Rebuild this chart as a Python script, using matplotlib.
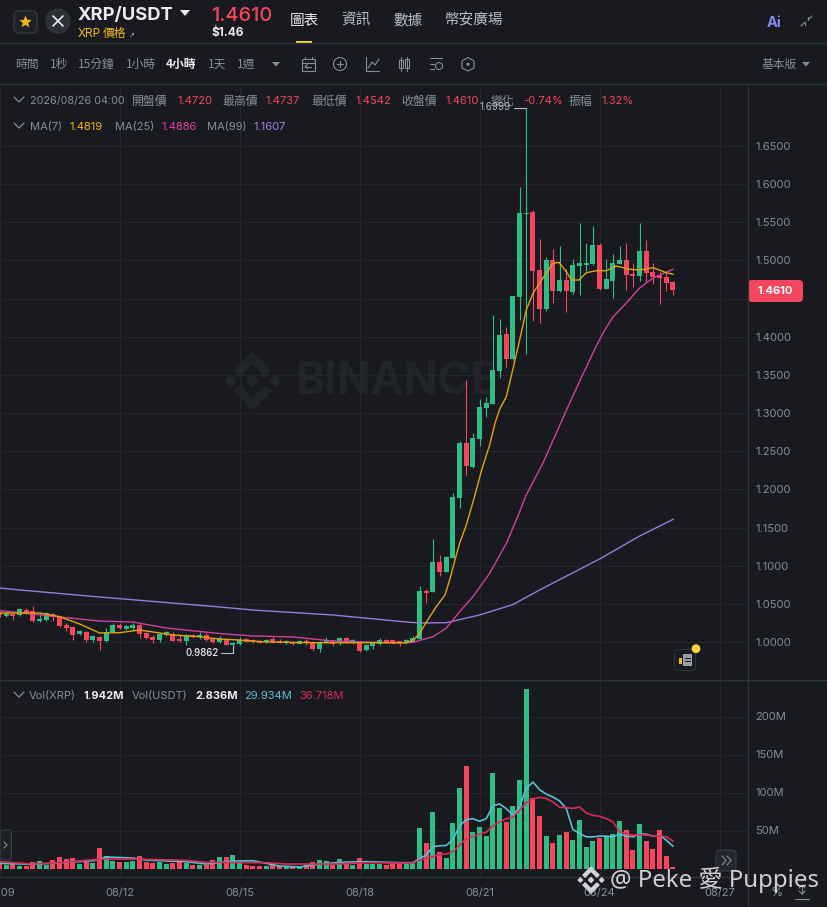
import matplotlib
matplotlib.use("Agg")
import matplotlib.pyplot as plt
from matplotlib.patches import FancyBboxPatch, Polygon, Circle, Rectangle
import numpy as np

plt.rcParams['font.family'] = ['Inter', 'Noto Sans CJK TC', 'DejaVu Sans']
CJK = ['Noto Sans CJK TC', 'DejaVu Sans']

BG = '#181A20'; GRID = '#23262D'; LINE = '#2F333B'; GRAY = '#848E9C'; UP = '#2EBD85'; DOWN = '#F6465D'
C_MA7 = '#E0A50C'; C_MA25 = '#D23FA0'; C_MA99 = '#9A7BDC'; C_V1 = '#59BFD6'; C_V2 = '#D92B58'

opens = [1.0394,1.0341,1.0367,1.0350,1.0420,1.0407,1.0280,1.0289,1.0367,1.0332,1.0223,1.0197,1.0101,1.0136,1.0022,1.0070,1.0018,1.0136,1.0223,1.0175,
 1.0188,1.0219,1.0118,1.0066,1.0027,1.0092,1.0110,1.0035,1.0009,1.0092,1.0070,1.0092,1.0040,0.9995,1.0039,0.9964,0.9973,1.0039,1.0021,1.0013,
 1.0004,1.0035,1.0017,0.9986,1.0004,0.9978,1.0008,0.9995,0.9908,0.9995,1.0021,0.9991,1.0056,0.9991,1.0004,0.9890,0.9943,0.9969,1.0026,1.0021,
 1.0008,0.9986,1.0004,1.0034,1.0672,1.0659,1.1048,1.0917,1.1100,1.1887,1.2608,1.2298,1.2661,1.3067,1.3119,1.3556,1.4032,1.3708,1.4526,1.5605,
 1.5636,1.4875,1.4368,1.5006,1.4596,1.4744,1.4591,1.4928,1.4945,1.4954,1.5199,1.4626,1.4736,1.4954,1.5006,1.4823,1.4801,1.5124,1.4849,1.4801,
 1.4779,1.4720]
closes = [1.0350,1.0376,1.0341,1.0429,1.0385,1.0276,1.0306,1.0376,1.0332,1.0210,1.0188,1.0096,1.0140,1.0027,1.0075,1.0018,1.0136,1.0223,1.0179,1.0206,
 1.0227,1.0110,1.0053,1.0027,1.0101,1.0127,1.0018,1.0009,1.0092,1.0066,1.0092,1.0027,1.0000,1.0048,0.9964,0.9986,1.0026,1.0004,0.9995,0.9991,
 1.0030,0.9995,0.9986,1.0008,0.9978,1.0008,0.9991,0.9908,1.0004,1.0026,0.9969,1.0056,0.9995,1.0030,0.9886,0.9960,0.9982,1.0021,0.9995,0.9986,
 0.9982,1.0021,1.0047,1.0668,1.0646,1.1052,1.0917,1.1114,1.1900,1.2608,1.2307,1.2674,1.3080,1.3132,1.3564,1.4023,1.3708,1.4534,1.5627,1.5627,
 1.4862,1.4364,1.5006,1.4596,1.4744,1.4596,1.4941,1.4963,1.4971,1.5203,1.4622,1.4753,1.4967,1.5006,1.4810,1.4801,1.5124,1.4840,1.4788,1.4771,
 1.4700,1.4610]
highs = [1.0411,1.0411,1.0385,1.0437,1.0442,1.0472,1.0385,1.0394,1.0376,1.0341,1.0245,1.0210,1.0158,1.0140,1.0088,1.0084,1.0179,1.0254,1.0245,1.0223,
 1.0254,1.0245,1.0136,1.0088,1.0127,1.0149,1.0127,1.0105,1.0101,1.0110,1.0131,1.0114,1.0057,1.0078,1.0048,0.9995,1.0061,1.0052,1.0035,1.0021,
 1.0039,1.0069,1.0035,1.0026,1.0017,1.0021,1.0035,1.0008,1.0017,1.0061,1.0030,1.0069,1.0065,1.0043,1.0017,0.9973,0.9995,1.0048,1.0035,1.0030,
 1.0013,1.0039,1.0078,1.0733,1.0694,1.1350,1.1144,1.1122,1.1953,1.2634,1.3434,1.2739,1.3185,1.3207,1.4285,1.4233,1.4124,1.4534,1.5968,1.6999,
 1.5662,1.5282,1.5050,1.5151,1.5190,1.4888,1.5020,1.5496,1.5234,1.5452,1.5225,1.5020,1.5085,1.5195,1.5225,1.4963,1.5487,1.5269,1.4963,1.4854,
 1.4840,1.4737]
lows = [1.0332,1.0324,1.0289,1.0341,1.0367,1.0267,1.0267,1.0280,1.0280,1.0201,1.0149,1.0027,1.0088,1.0005,1.0000,0.9895,1.0005,1.0127,1.0166,1.0158,
 1.0158,1.0048,1.0044,0.9992,1.0000,1.0084,1.0009,0.9996,0.9961,1.0057,1.0044,1.0018,0.9992,0.9982,0.9956,0.9862,0.9964,0.9995,0.9986,0.9982,
 0.9991,0.9986,0.9982,0.9978,0.9956,0.9973,0.9964,0.9886,0.9868,0.9986,0.9951,0.9956,0.9986,0.9978,0.9873,0.9881,0.9908,0.9956,0.9982,0.9973,
 0.9943,0.9978,0.9995,1.0025,1.0506,1.0655,1.0864,1.0912,1.1096,1.1756,1.2189,1.2285,1.2573,1.2953,1.3119,1.3455,1.3608,1.3700,1.4220,1.3770,
 1.4211,1.4185,1.4333,1.4447,1.4591,1.4325,1.4561,1.4552,1.4867,1.4941,1.4609,1.4626,1.4513,1.4954,1.4613,1.4657,1.4731,1.4722,1.4687,1.4425,
 1.4600,1.4542]
volumes = [9.6,5.2,6.1,4.4,4.4,9.6,10.0,5.2,11.3,15.2,13.1,13.9,6.5,9.1,8.3,27.0,16.5,10.4,9.1,9.1,
 10.4,16.5,9.6,8.3,9.6,6.5,8.3,9.1,8.3,4.8,5.2,5.7,11.3,15.7,15.2,18.7,8.3,4.8,4.4,4.4,
 3.9,4.8,3.9,2.6,3.0,2.6,5.7,8.7,11.3,10.0,4.8,12.6,8.3,5.2,13.9,6.1,6.5,6.5,5.7,8.3,
 9.6,6.5,7.8,54.4,33.9,75.3,22.2,14.4,60.0,105.7,135.7,49.2,55.7,43.1,126.6,79.6,61.3,82.2,117.0,236.2,
 93.5,69.2,43.1,34.4,45.2,48.3,37.8,63.9,29.1,37.4,41.3,43.1,46.5,63.1,50.9,24.8,58.7,36.5,26.5,51.8,
 17.0,2.9]

ma7_idx = [0,6,9,12,15,18,21,26,30,33,36,40,47,61,62,63,64.2,65.5,66.8,67.5,68.3,69,70,71.3,72.3,73.5,74.3,75,76,77.2,78,79,80,81.5,83,83.9,85,85.8,86.9,88,89.5,91,92.5,94.5,96,98,100,101]
ma7_val = [1.0380,1.0380,1.0332,1.0236,1.0118,1.0122,1.0157,1.0092,1.0069,1.0039,1.0026,1.0000,0.9991,0.9991,1.0017,1.0114,1.0288,1.0463,1.0616,1.0813,1.1075,1.1293,1.1533,1.1927,1.2254,1.2582,1.2866,1.3050,1.3215,1.3653,1.3958,1.4351,1.4570,1.4771,1.4963,1.4976,1.4853,1.4744,1.4744,1.4840,1.4866,1.4866,1.4928,1.4885,1.4875,1.4906,1.4840,1.4819]
ma25_idx = [0,9,15,20,25,33,38,44,50,60,62,65,67,69,71,73.5,76,77.5,79,81.5,83.5,85.5,87.3,89,90.5,92,94,96,98,101]
ma25_val = [1.0413,1.0328,1.0275,1.0262,1.0183,1.0111,1.0079,1.0066,1.0013,0.9987,0.9996,1.0069,1.0183,1.0397,1.0594,1.0900,1.1293,1.1599,1.1927,1.2346,1.2739,1.3132,1.3473,1.3788,1.4050,1.4260,1.4443,1.4640,1.4771,1.4886]
ma99_idx = [0,3,15,33,38,50,61,63,67,72,77,81,90,96,101]
ma99_val = [1.0708,1.0682,1.0590,1.0459,1.0419,1.0354,1.0262,1.0249,1.0253,1.0354,1.0491,1.0682,1.1088,1.1389,1.1607]
vol1_idx = [0,5,10,14,16,20,22,28,31,35,38,42,45,48,52,55,60]+list(range(62,102))
vol1_val = [7.4,6.1,8.7,10.9,15.7,14.4,11.7,9.6,6.5,10.4,10.9,3.9,2.6,6.5,9.1,9.6,8.3,
 8.3,13.9,18.3,29.1,30.5,30.9,38.7,56.6,64.8,66.1,62.6,66.1,83.1,85.3,79.2,70.5,81.3,106.1,114.0,104.0,98.3,94.4,89.2,79.2,51.8,46.5,42.2,42.2,43.1,43.1,42.2,45.7,43.1,42.2,46.1,45.7,43.1,44.4,37.8,29.9]
vol2_idx = [0,5,10,15,21,28,31,40,43,50,55]+list(range(62,102))
vol2_val = [9.6,6.5,8.7,13.0,13.0,11.3,8.7,8.3,6.5,6.5,8.3,
 7.8,11.7,13.9,16.1,19.1,19.6,22.6,31.3,39.6,42.2,45.7,48.3,57.0,61.8,66.1,68.3,77.0,87.0,92.2,94.0,92.7,87.9,80.9,80.5,79.6,81.3,73.5,70.5,69.2,66.1,61.8,48.7,46.5,44.4,45.2,44.4,43.5,43.5,42.2,36.7]
price_ticks = [1.00,1.05,1.10,1.15,1.20,1.25,1.30,1.35,1.40,1.45,1.50,1.55,1.60,1.65]
vol_ticks = [50,100,150,200]
date_ticks = [0,18,36,54,72,90,108]
date_labels = ['08/09','08/12','08/15','08/18','08/21','08/24','08/27']

W, H = 827, 907
fig = plt.figure(figsize=(W/100, H/100), dpi=100, facecolor=BG)

def axes_px(x0, y0, x1, y1, **kw):
    return fig.add_axes([x0/W, 1-y1/H, (x1-x0)/W, (y1-y0)/H], **kw)

BAR = 20/3
xlim = (0.37/BAR, (747+0.37)/BAR)
ax = axes_px(0, 84, 747, 679, facecolor='none')
axv = axes_px(0, 680, 747, 877, facecolor='none')
ov = axes_px(0, 0, W, H, facecolor='none')
ov.set_xlim(0, W); ov.set_ylim(H, 0); ov.axis('off'); ov.set_zorder(5)

o, c, hi, lo, v = map(np.array, (opens, closes, highs, lows, volumes))
x = np.arange(len(o))
up = c >= o
col = np.where(up, UP, DOWN)

ax.set_xlim(*xlim); ax.set_ylim(1+(642-679)/763, 1+(642-84)/763)
axv.set_xlim(*xlim); axv.set_ylim((869-877)/0.762, (869-680)/0.762)
for a in (ax, axv):
    a.set_xticks([]); a.set_yticks([])
    for s in a.spines.values():
        s.set_visible(False)
    for d in date_ticks:
        a.axvline(d, color=GRID, lw=0.9, zorder=0)
for p in price_ticks:
    ax.axhline(p, color=GRID, lw=0.9, zorder=0)
for m in vol_ticks:
    axv.axhline(m, color=GRID, lw=0.9, zorder=0)

def logo(a, cx, cy, s, color, z=1):
    def dia(px, py, r):
        a.add_patch(Polygon([(px, py-r), (px+r, py), (px, py+r), (px-r, py)], closed=True, fc=color, ec='none', zorder=z, clip_on=False))
    dia(cx, cy, s*0.24)
    dia(cx-s*0.76, cy, s*0.22)
    dia(cx+s*0.76, cy, s*0.22)
    for sg in (-1, 1):
        a.add_patch(Polygon([(cx, cy+sg*s), (cx+s*0.64, cy+sg*s*0.36), (cx+s*0.42, cy+sg*s*0.14), (cx, cy+sg*s*0.56), (cx-s*0.42, cy+sg*s*0.14), (cx-s*0.64, cy+sg*s*0.36)],
                            closed=True, fc=color, ec='none', zorder=z, clip_on=False))

WM = '#21242B'
wm_bg = axes_px(0, 0, W, H, facecolor='none'); wm_bg.set_xlim(0, W); wm_bg.set_ylim(H, 0); wm_bg.axis('off'); wm_bg.set_zorder(-1)
logo(wm_bg, 252.7, 381, 29.5, WM)
wm_bg.text(295, 382, 'BINANCE', color=WM, fontsize=32, fontweight='bold', family=['Inter'], va='center', ha='left')

ax.vlines(x, lo, hi, colors=col, lw=0.8, zorder=3)
ax.bar(x, np.maximum(np.abs(c-o), 0.0015), bottom=np.minimum(o, c), width=0.75, color=col, zorder=4, linewidth=0)
ax.plot(ma99_idx, ma99_val, color=C_MA99, lw=1.0, zorder=5)
ax.plot(ma25_idx, ma25_val, color=C_MA25, lw=1.0, zorder=6)
ax.plot(ma7_idx, ma7_val, color=C_MA7, lw=1.0, zorder=7)

axv.bar(x, v, width=0.75, color=col, zorder=3, linewidth=0)
axv.plot(vol1_idx, vol1_val, color=C_V1, lw=1.2, zorder=4)
axv.plot(vol2_idx, vol2_val, color=C_V2, lw=1.2, zorder=5)

def T(px, py, s, color=GRAY, size=8, ha='left', va='center', **kw):
    return ov.text(px, py, s, color=color, fontsize=size, ha=ha, va=va, clip_on=False, **kw)

def L(xs, ys, color=LINE, lw=0.8, **kw):
    ov.plot(xs, ys, color=color, lw=lw, solid_capstyle='round', clip_on=False, **kw)

L([0, W], [43, 43], lw=1); L([0, W], [83.5, 83.5], lw=1)
L([0, W], [679.5, 679.5], lw=1); L([0, 747], [877, 877], lw=1)
L([747.5, 747.5], [84, H], lw=1)

for p in price_ticks:
    if p != 1.45:  # hidden behind the live price tag
        T(755, 643-(p-1)*763, f'{p:.4f}', size=8)
for m in vol_ticks:
    T(755, 869-m*0.762, f'{m}M', size=8)
for d, lab in zip(date_ticks, date_labels):
    T(d*BAR-0.37, 893, lab, size=8, ha='center')

ov.add_patch(FancyBboxPatch((748, 280), 55, 22, boxstyle='round,pad=0,rounding_size=4', fc=DOWN, ec='none'))
T(775.5, 291, '1.4610', color='white', size=8, ha='center', fontweight='bold')

# top bar
ov.add_patch(FancyBboxPatch((14, 11), 23, 22, boxstyle='round,pad=0,rounding_size=5', fc='#1E2026', ec='#3A3E46', lw=0.8))
ang = np.deg2rad(np.arange(0, 360, 36) - 90)
rad = np.array([6.5, 2.8]*5)
ov.add_patch(Polygon(np.c_[25.5+rad*np.cos(ang), 22+rad*np.sin(ang)], closed=True, fc='#F0B90B', ec='none'))
ov.add_patch(Circle((58, 21), 12, fc='#2B2F36', ec='#3A3E46', lw=0.6))
L([53, 63], [16, 26], color='#EAECEF', lw=1.2); L([63, 53], [16, 26], color='#EAECEF', lw=1.2)
T(78, 15, 'XRP/USDT', color='#EAECEF', size=13.2, fontweight='bold')
ov.add_patch(Polygon([(180, 10), (190, 10), (185, 16)], closed=True, fc='#EAECEF', ec='none'))
T(211, 16, '1.4610', color=DOWN, size=14.4, fontweight='medium')
T(78, 34, 'XRP', color='#F0B90B', size=8.5)
T(103, 33.5, '價格', color='#F0B90B', size=8.5, family=CJK)
T(129, 35, '↗', color='#B7BDC6', size=5, family=['DejaVu Sans'])
T(211, 33, '$1.46', color='#EAECEF', size=8.5, fontweight='bold')
T(304, 20.5, '圖表', color='#EAECEF', size=10.5, ha='center', family=CJK)
ov.add_patch(Rectangle((296, 40.5), 16, 3, fc='#FCD535', ec='none'))
for cx, s in [(356, '資訊'), (408, '數據'), (474, '幣安廣場')]:
    T(cx, 20.5, s, color='#B7BDC6', size=10.5, ha='center', family=CJK)
T(774, 23, 'Ai', color='#7F8CF0', size=10.5, ha='center', fontweight='bold')
L([801, 805], [26, 22], color=GRAY); L([805, 805], [22, 25], color=GRAY)
L([812, 808], [16, 20], color=GRAY); L([808, 808], [20, 17], color=GRAY)

# interval row
for px, s in [(15, '時間'), (50, '1秒'), (78, '15分鐘'), (126, '1小時'), (208, '1天'), (237, '1週')]:
    T(px, 64.5, s, size=8.5, family=CJK)
T(166, 64.5, '4小時', color='#EAECEF', size=8.5, fontweight='bold', family=CJK)
ov.add_patch(Polygon([(272, 62), (280, 62), (276, 66.5)], closed=True, fc=GRAY, ec='none'))
T(762, 64, '基本版', size=8.5, family=CJK)
ov.add_patch(Polygon([(802, 62), (810, 62), (806, 66.5)], closed=True, fc=GRAY, ec='none'))

# toolbar icons
ov.add_patch(Rectangle((302, 59), 13, 12, fc='none', ec=GRAY, lw=0.8)); L([302, 315], [62.5, 62.5], color=GRAY)
L([305, 305], [57, 59], color=GRAY); L([312, 312], [57, 59], color=GRAY)
L([305, 311], [66.5, 66.5], color=GRAY); L([307.5, 305, 307.5], [64.5, 66.5, 68.5], color=GRAY)
ov.add_patch(Circle((340, 64), 6.5, fc='none', ec=GRAY, lw=0.8)); L([337, 343], [64, 64], color=GRAY); L([340, 340], [61, 67], color=GRAY)
L([366, 366, 379], [57, 71, 71], color=GRAY); L([368, 372, 375, 379], [68, 62, 65, 59], color=GRAY)
ov.add_patch(Rectangle((399, 60), 3.5, 8, fc='none', ec=GRAY, lw=0.8)); ov.add_patch(Rectangle((405, 59), 3.5, 9, fc='none', ec=GRAY, lw=0.8))
L([400.7, 400.7], [57, 71], color=GRAY); L([406.7, 406.7], [57, 71], color=GRAY)
L([430, 442], [58, 58], color=GRAY); L([430, 434], [64, 64], color=GRAY); L([430, 434], [69, 69], color=GRAY)
ov.add_patch(Circle((439, 66), 3.5, fc='none', ec=GRAY, lw=0.8))
ov.add_patch(Polygon([(468, 57.5), (474, 61), (474, 68), (468, 71), (462, 68), (462, 61)], closed=True, fc='none', ec=GRAY, lw=0.8))
ov.add_patch(Circle((468, 64.2), 1.6, fc=GRAY, ec='none'))

def chev(px, py):
    L([px-5, px, px+5], [py-3, py+2, py-3], color=GRAY, lw=0.9)
chev(19, 100)
T(30, 101, '2026/08/26 04:00', size=7.8)
for px, s in [(132, '開盤價'), (222, '最高價'), (311, '最低價'), (401, '收盤價'), (491, '變化'), (569, '振幅')]:
    T(px, 101, s, size=8.6, family=CJK)
for px, s in [(177, '1.4720'), (266, '1.4737'), (356, '1.4542'), (446, '1.4610'), (523, '-0.74%'), (601, '1.32%')]:
    T(px, 101, s, color=DOWN, size=8)
chev(19, 126)
T(30, 127, 'MA(7)', size=8); T(70, 127, '1.4819', color='#F0B90B', size=8)
T(115, 127, 'MA(25)', size=8); T(162, 127, '1.4886', color='#E63FA8', size=8)
T(207, 127, 'MA(99)', size=8); T(254, 127, '1.1607', color='#A97FE8', size=8)

T(480, 107, '1.6999', color='#B7BDC6', size=7, zorder=8)
L([514, 526], [107.5, 107.5], color='#B7BDC6')
T(186, 653, '0.9862', color='#EAECEF', size=7, fontweight='medium')
L([221, 233, 233], [653, 653, 646], color='#B7BDC6')

chev(19, 695)
T(29, 696, 'Vol(XRP)', size=8); T(84, 696, '1.942M', color='#EAECEF', size=8, fontweight='bold')
T(132, 696, 'Vol(USDT)', size=8); T(195, 696, '2.836M', color='#EAECEF', size=8, fontweight='bold')
T(244, 696, '29.934M', color=C_V1, size=8); T(299, 696, '36.718M', color=C_V2, size=8)

# widgets
ov.add_patch(FancyBboxPatch((0, 830), 11.5, 30, boxstyle='round,pad=0,rounding_size=3', fc='#1E2026', ec='#3A3E46', lw=0.8))
L([4, 7, 4], [842, 845, 848], color=GRAY)
ov.add_patch(FancyBboxPatch((716, 850), 20, 21, boxstyle='round,pad=0,rounding_size=4', fc='#23262D', ec='#3A3E46', lw=0.8))
L([722, 726, 722], [856, 860.5, 865], color=GRAY); L([727, 731, 727], [856, 860.5, 865], color=GRAY)
ov.add_patch(FancyBboxPatch((674.5, 649.5), 21, 21, boxstyle='round,pad=0,rounding_size=4', fc='#1A1C22', ec='#2F333B', lw=0.8))
ov.add_patch(Rectangle((683, 654), 9, 12, fc='#9AA0AA', ec='none'))
L([685, 690], [658, 658], color='#1A1C22'); L([685, 690], [661, 661], color='#1A1C22')
ov.add_patch(Rectangle((679, 658), 3, 6, fc='#F0B90B', ec='none'))
ov.add_patch(Circle((696, 648.7), 4.4, fc='#FCD535', ec='none'))
T(777, 893, '%', size=9, ha='center')
L([802, 802], [885, 894], color=GRAY); L([799, 802, 805], [888, 885, 888], color=GRAY)
L([799, 802, 805], [891, 894, 891], color=GRAY); L([795, 809], [899, 899], color=GRAY)

logo(ov, 591, 880, 14, '#D4D4D4', z=6)
T(610, 880, '@ Peke 愛 Puppies', color='#D0D0D0', size=17.3, zorder=6, fontweight='light', family=['Noto Sans', 'Noto Sans CJK TC'])

fig.savefig('out.png', dpi=100, facecolor=BG)
